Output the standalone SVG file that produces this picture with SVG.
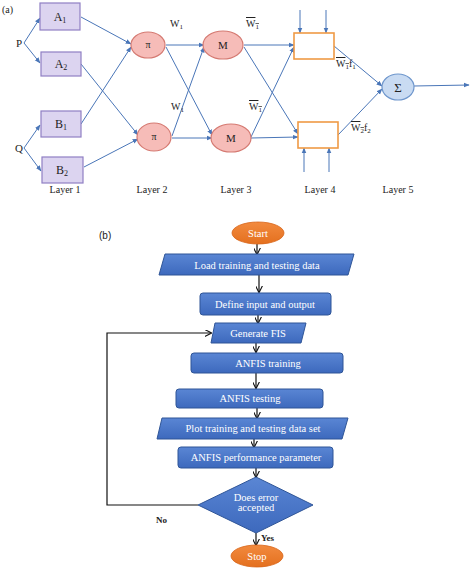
<svg xmlns="http://www.w3.org/2000/svg" width="474" height="571" viewBox="0 0 474 571">
<defs>
<marker id="ab" viewBox="0 0 10 10" refX="9" refY="5" markerWidth="6" markerHeight="6" orient="auto-start-reverse" markerUnits="userSpaceOnUse"><path d="M0,1 L10,5 L0,9 z" fill="#4a76b8"/></marker>
<marker id="ak" viewBox="0 0 10 10" refX="9" refY="5" markerWidth="7" markerHeight="7" orient="auto" markerUnits="userSpaceOnUse"><path d="M0,0 L10,5 L0,10" fill="none" stroke="#111" stroke-width="1.6"/></marker>
<linearGradient id="bg" x1="0" y1="0" x2="0" y2="1"><stop offset="0" stop-color="#5a86d4"/><stop offset="1" stop-color="#3d69bd"/></linearGradient>
<linearGradient id="og" x1="0" y1="0" x2="0" y2="1"><stop offset="0" stop-color="#f28a3e"/><stop offset="1" stop-color="#e4701f"/></linearGradient>
<style>
.t{font-family:"Liberation Serif","DejaVu Serif",serif;fill:#222}
.lay{font-size:10px}
.box{fill:#dcd4f0;stroke:#8f7fc4;stroke-width:1.2}
.pk{fill:#f6bcb8;stroke:#d57a72;stroke-width:1.2}
.or{fill:#fff;stroke:#ef9a45;stroke-width:1.6}
.sg{fill:#c9dbf2;stroke:#6e96cc;stroke-width:1.2}
.c{stroke:#4a76b8;stroke-width:1;fill:none;marker-end:url(#ab)}
.ka{stroke:#111;stroke-width:1.2;fill:none;marker-end:url(#ak)}
.fb{fill:url(#bg);stroke:#2f5597;stroke-width:1}
.fo{fill:url(#og);stroke:#d8661a;stroke-width:0.8}
.w{font-family:"Liberation Serif","DejaVu Serif",serif;fill:#fff;font-size:10.5px;text-anchor:middle}
.ov{text-decoration:overline}
</style>
</defs>

<!-- (a) -->
<text class="t" x="2" y="13" font-size="10">(a)</text>
<text class="t" x="16" y="47" font-size="11">P</text>
<text class="t" x="15" y="152" font-size="11">Q</text>

<g id="connectors-a">
<line class="c" x1="24" y1="43" x2="40" y2="18"/>
<line class="c" x1="24" y1="43" x2="40" y2="63"/>
<line class="c" x1="24" y1="148" x2="40" y2="125"/>
<line class="c" x1="24" y1="148" x2="41" y2="171"/>
<line class="c" x1="81" y1="17" x2="131" y2="44"/>
<line class="c" x1="81" y1="64" x2="138" y2="135"/>
<line class="c" x1="81" y1="124" x2="131" y2="47"/>
<line class="c" x1="84" y1="167" x2="138" y2="139"/>
<line class="c" x1="166" y1="45" x2="204" y2="45"/>
<line class="c" x1="166" y1="47" x2="212" y2="135"/>
<line class="c" x1="172" y1="136" x2="204" y2="47"/>
<line class="c" x1="172" y1="138" x2="212" y2="138"/>
<line class="c" x1="244" y1="45" x2="294" y2="45"/>
<line class="c" x1="244" y1="47" x2="298" y2="134"/>
<line class="c" x1="251" y1="137" x2="294" y2="47"/>
<line class="c" x1="251" y1="138" x2="298" y2="137"/>
<line class="c" x1="300" y1="10" x2="300" y2="33"/>
<line class="c" x1="326" y1="10" x2="326" y2="33"/>
<line class="c" x1="304" y1="172" x2="304" y2="148"/>
<line class="c" x1="329" y1="172" x2="329" y2="148"/>
<line class="c" x1="334" y1="46" x2="382" y2="86"/>
<line class="c" x1="338" y1="135" x2="382" y2="89"/>
<line class="c" x1="414" y1="86" x2="469" y2="85"/>
</g>

<g id="A1"><rect class="box" x="40" y="3" width="40" height="27"/><text class="t" x="60" y="21" font-size="12" text-anchor="middle">A<tspan font-size="8" dy="2">1</tspan></text></g>
<g id="A2"><rect class="box" x="41" y="52" width="40" height="24"/><text class="t" x="61" y="68" font-size="12" text-anchor="middle">A<tspan font-size="8" dy="2">2</tspan></text></g>
<g id="B1"><rect class="box" x="41" y="111" width="40" height="26"/><text class="t" x="61" y="128" font-size="12" text-anchor="middle">B<tspan font-size="8" dy="2">1</tspan></text></g>
<g id="B2"><rect class="box" x="42" y="157" width="41" height="26"/><text class="t" x="62" y="174" font-size="12" text-anchor="middle">B<tspan font-size="8" dy="2">2</tspan></text></g>

<g id="pi1"><ellipse class="pk" cx="148" cy="45" rx="17" ry="13"/><text class="t" x="148" y="48" font-size="10" text-anchor="middle">π</text></g>
<g id="pi2"><ellipse class="pk" cx="154" cy="137" rx="17" ry="14"/><text class="t" x="154" y="140" font-size="10" text-anchor="middle">π</text></g>
<g id="M1"><ellipse class="pk" cx="223" cy="45" rx="20" ry="14"/><text class="t" x="223" y="49" font-size="11" text-anchor="middle">M</text></g>
<g id="M2"><ellipse class="pk" cx="231" cy="138" rx="20" ry="14"/><text class="t" x="231" y="142" font-size="11" text-anchor="middle">M</text></g>

<g id="L4a"><rect class="or" x="294" y="33" width="40" height="26"/></g>
<g id="L4b"><rect class="or" x="298" y="122" width="40" height="26"/></g>
<g id="Sum"><ellipse class="sg" cx="398" cy="87" rx="16" ry="13"/><text class="t" x="398" y="91.5" font-size="13" text-anchor="middle">Σ</text></g>

<text class="t" x="170" y="27" font-size="10">W<tspan font-size="7" dy="2">1</tspan></text>
<text class="t" x="171" y="110" font-size="10">W<tspan font-size="7" dy="2">1</tspan></text>
<text class="t" x="246" y="27" font-size="10"><tspan class="ov">W<tspan font-size="7" dy="2">1</tspan></tspan></text>
<text class="t" x="249" y="110" font-size="10"><tspan class="ov">W<tspan font-size="7" dy="2">1</tspan></tspan></text>
<text class="t" x="336" y="67" font-size="10"><tspan class="ov">W<tspan font-size="7" dy="2">1</tspan></tspan><tspan dy="-2">f</tspan><tspan font-size="7" dy="2">1</tspan></text>
<text class="t" x="351" y="131" font-size="10"><tspan class="ov">W<tspan font-size="7" dy="2">2</tspan></tspan><tspan dy="-2">f</tspan><tspan font-size="7" dy="2">2</tspan></text>

<text class="t lay" x="65" y="193" text-anchor="middle">Layer 1</text>
<text class="t lay" x="152" y="193" text-anchor="middle">Layer 2</text>
<text class="t lay" x="236" y="193" text-anchor="middle">Layer 3</text>
<text class="t lay" x="320" y="193" text-anchor="middle">Layer 4</text>
<text class="t lay" x="398" y="193" text-anchor="middle">Layer 5</text>

<!-- (b) -->
<text x="99" y="239" font-family="'Liberation Sans',Arial,sans-serif" font-size="10" fill="#222">(b)</text>

<g id="connectors-b">
<line class="ka" x1="257" y1="244" x2="257" y2="254"/>
<line class="ka" x1="259" y1="275" x2="259" y2="292"/>
<line class="ka" x1="258" y1="315" x2="258" y2="323"/>
<line class="ka" x1="256" y1="343" x2="256" y2="352"/>
<line class="ka" x1="256" y1="373" x2="256" y2="388"/>
<line class="ka" x1="257" y1="408" x2="257" y2="418"/>
<line class="ka" x1="254" y1="439" x2="254" y2="447"/>
<line class="ka" x1="256" y1="468" x2="256" y2="477"/>
<polyline class="ka" points="198,505 107,505 107,333 211,333"/>
<line class="ka" x1="256" y1="533" x2="256" y2="545"/>
</g>

<g id="start"><ellipse class="fo" cx="258" cy="233" rx="26" ry="11"/><text class="w" x="258" y="236.5" font-size="9.5">Start</text></g>
<g id="load"><polygon class="fb" points="165,254 354,254 348,275 159,275"/><text class="w" x="257" y="268.5">Load training and testing data</text></g>
<g id="define"><rect class="fb" x="200" y="293" width="131" height="22" rx="3"/><text class="w" x="265" y="307.5">Define input and output</text></g>
<g id="genfis"><polygon class="fb" points="215,323 306,323 301,343 211,343"/><text class="w" x="258" y="337">Generate FIS</text></g>
<g id="train"><rect class="fb" x="191" y="353" width="152" height="20" rx="3"/><text class="w" x="268" y="367">ANFIS training</text></g>
<g id="test"><rect class="fb" x="176" y="389" width="147" height="19" rx="3"/><text class="w" x="250" y="402">ANFIS testing</text></g>
<g id="plot"><polygon class="fb" points="162,418 348,418 342,439 157,439"/><text class="w" x="253" y="432">Plot training and testing data set</text></g>
<g id="perf"><rect class="fb" x="178" y="447" width="155" height="21" rx="3"/><text class="w" x="256" y="461">ANFIS performance parameter</text></g>
<g id="decision"><polygon class="fb" points="256,477 313,505 256,533 198,505"/><text class="w" x="256" y="501" font-size="9">Does error</text><text class="w" x="256" y="511" font-size="9">accepted</text></g>
<g id="stop"><ellipse class="fo" cx="257" cy="556" rx="26" ry="11"/><text class="w" x="257" y="559.5" font-size="9.5">Stop</text></g>

<text class="t" x="156" y="523" font-size="9" font-weight="bold" fill="#111">No</text>
<text class="t" x="261" y="541" font-size="9" font-weight="bold" fill="#111">Yes</text>
</svg>
